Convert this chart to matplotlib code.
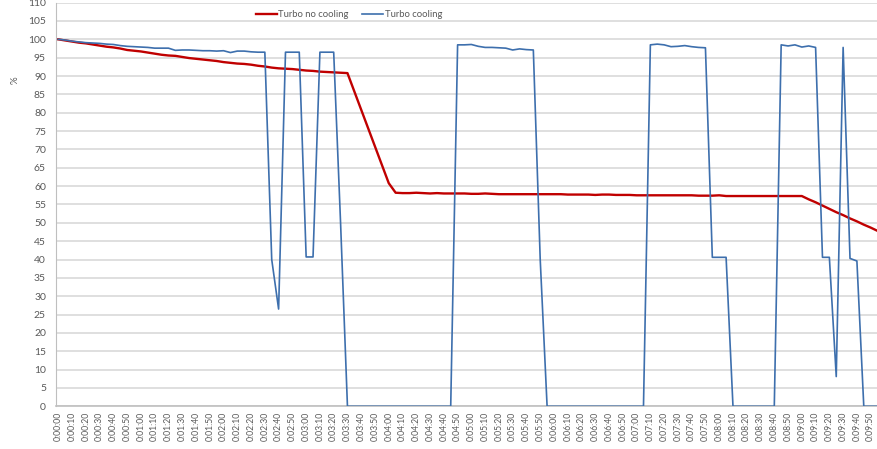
import numpy as np
from matplotlib import pyplot as plt

# sampled every 5 seconds, 0:00:00 .. 0:09:55
sample_seconds = list(range(0, 600, 5))

turbo_no_cooling = [
    100.0, 99.7, 99.4, 99.1, 98.9, 98.6, 98.3, 98.0, 97.8, 97.5,
    97.1, 96.9, 96.7, 96.4, 96.1, 95.8, 95.6, 95.5, 95.2, 94.9,
    94.7, 94.5, 94.3, 94.1, 93.8, 93.6, 93.4, 93.3, 93.1, 92.8,
    92.6, 92.3, 92.1, 92.0, 91.9, 91.7, 91.5, 91.4, 91.2, 91.1,
    91.0, 90.9, 90.8, 85.8, 80.8, 75.8, 70.8, 65.8, 60.8, 58.2,
    58.1, 58.1, 58.2, 58.1, 58.0, 58.1, 58.0, 58.0, 58.0, 58.0,
    57.9, 57.9, 58.0, 57.9, 57.8, 57.8, 57.8, 57.8, 57.8, 57.8,
    57.8, 57.8, 57.8, 57.8, 57.7, 57.7, 57.7, 57.7, 57.6, 57.7,
    57.7, 57.6, 57.6, 57.6, 57.5, 57.5, 57.5, 57.5, 57.5, 57.5,
    57.5, 57.5, 57.5, 57.4, 57.4, 57.4, 57.5, 57.3, 57.3, 57.3,
    57.3, 57.3, 57.3, 57.3, 57.3, 57.3, 57.3, 57.3, 57.3, 56.4,
    55.6, 54.7, 53.8, 52.9, 52.1, 51.2, 50.4, 49.5, 48.7, 47.8,
]

turbo_cooling = [
    100.0, 99.8, 99.5, 99.3, 99.1, 99.0, 98.9, 98.7, 98.6, 98.3,
    98.1, 98.0, 97.9, 97.8, 97.6, 97.6, 97.6, 97.0, 97.1, 97.1,
    97.0, 96.9, 96.9, 96.8, 96.9, 96.4, 96.8, 96.8, 96.6, 96.5,
    96.5, 40.0, 26.5, 96.5, 96.5, 96.5, 40.7, 40.7, 96.5, 96.5,
    96.5, 50.0, 0.0, 0.0, 0.0, 0.0, 0.0, 0.0, 0.0, 0.0,
    0.0, 0.0, 0.0, 0.0, 0.0, 0.0, 0.0, 0.0, 98.5, 98.5,
    98.6, 98.1, 97.8, 97.8, 97.7, 97.6, 97.1, 97.4, 97.2, 97.1,
    40.0, 0.0, 0.0, 0.0, 0.0, 0.0, 0.0, 0.0, 0.0, 0.0,
    0.0, 0.0, 0.0, 0.0, 0.0, 0.0, 98.5, 98.7, 98.5, 98.0,
    98.1, 98.3, 98.0, 97.8, 97.7, 40.6, 40.6, 40.6, 0.0, 0.0,
    0.0, 0.0, 0.0, 0.0, 0.0, 98.5, 98.2, 98.5, 97.9, 98.2,
    97.8, 40.6, 40.6, 8.1, 97.8, 40.3, 39.6, 0.0, 0.0, 0.0,
]

# x axis labels, every 10 seconds
label_seconds = list(range(0, 600, 10))
label_texts = ['0:%02d:%02d' % (s // 60, s % 60) for s in label_seconds]

y_ticks = list(range(0, 115, 5))

grid_color = '#d9d9d9'
text_color = '#595959'


def main():
    plt.rcParams['font.family'] = ['Lato', 'DejaVu Sans']
    fig = plt.figure(figsize=(8.77, 4.49), dpi=100)
    # plot area runs off the right edge, like the screenshot
    ax = fig.add_axes([0.0635, 0.0951, 0.9365, 0.899])

    ax.plot(sample_seconds, turbo_no_cooling, color='#c00000', linewidth=1.7, label='Turbo no cooling', zorder=3)
    ax.plot(sample_seconds, turbo_cooling, color='#3d6fad', linewidth=1.2, label='Turbo cooling', zorder=4)

    ax.set_xlim(-1.9, 594.6)
    ax.set_ylim(0, 110)
    ax.set_yticks(y_ticks)
    ax.set_xticks(label_seconds)
    ax.set_xticklabels(label_texts, rotation=90, fontsize=6.2, color=text_color)
    ax.tick_params(axis='y', labelsize=7.5, colors=text_color, length=0, pad=7)
    ax.tick_params(axis='x', length=0, pad=4)

    # horizontal gridlines only
    ax.grid(axis='y', color=grid_color, linewidth=1.2)
    ax.set_axisbelow(True)
    for side in ['top', 'right']:
        ax.spines[side].set_visible(False)
    ax.spines['left'].set_color('#bfbfbf')
    ax.spines['bottom'].set_color('#bfbfbf')
    ax.spines['bottom'].set_linewidth(1.2)

    fig.text(15 / 877, 1 - 80 / 449, '%', rotation=90, fontsize=7, color=text_color, ha='center', va='center')

    ax.legend(loc='upper center', bbox_to_anchor=(0.357, 1.003), ncol=2, frameon=False, fontsize=6.8,
              handlelength=2.2, handletextpad=0.2, columnspacing=1.4, labelcolor=text_color)

    fig.savefig('out.png', dpi=100)


if __name__ == '__main__':
    main()
